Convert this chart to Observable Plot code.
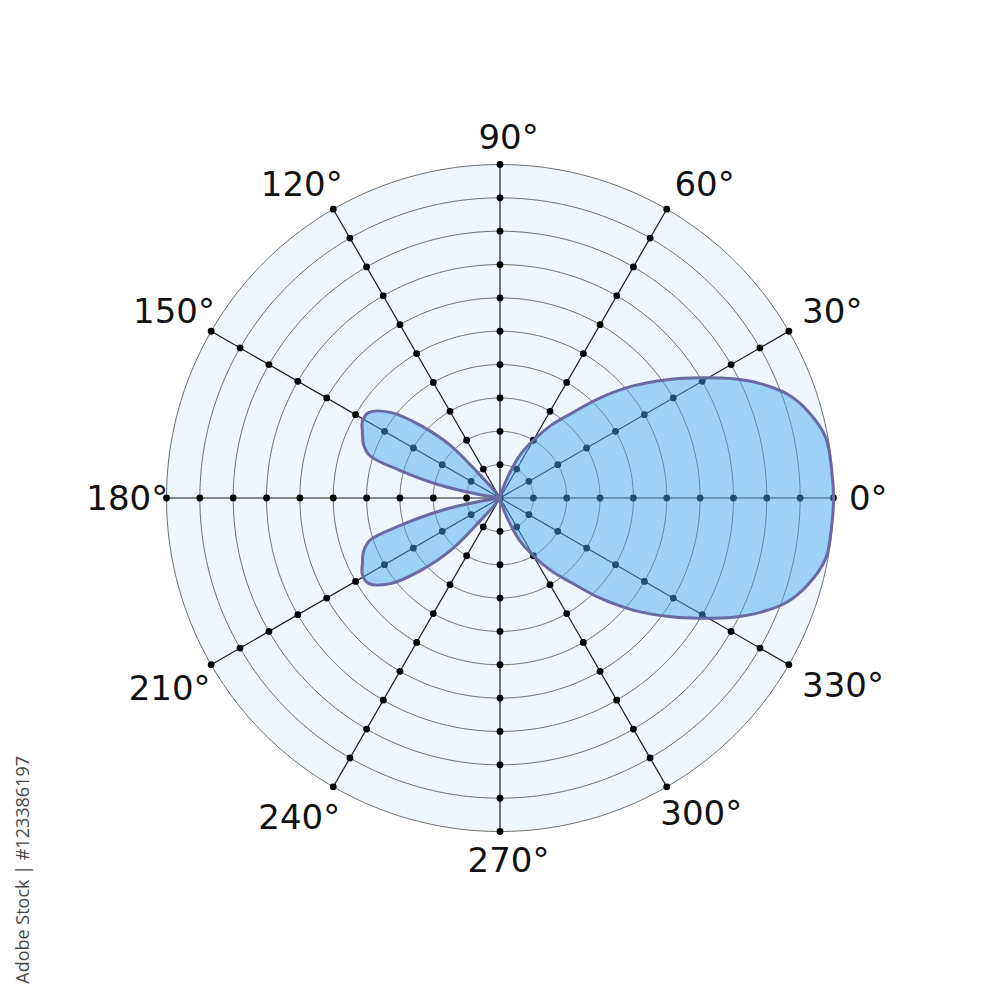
<!DOCTYPE html>
<html>
<head>
<meta charset="utf-8">
<script src="https://cdn.jsdelivr.net/npm/d3@7"></script>
<script src="https://cdn.jsdelivr.net/npm/@observablehq/plot@0.6"></script>
<style>
html, body { margin: 0; padding: 0; background: #fff; }
#chart { position: relative; width: 1000px; height: 1000px; overflow: hidden; }
#credit {
  position: absolute; left: 13px; top: 756px;
  writing-mode: vertical-rl; transform: rotate(180deg);
  font-family: "Open Sans", sans-serif; font-size: 18px; line-height: 19px; color: #474747;
  white-space: nowrap;
}
</style>
</head>
<body>
<div id="chart"></div>
<script>
// ---- data ----
const ringValues = [0.1, 0.2, 0.3, 0.4, 0.5, 0.6, 0.7, 0.8, 0.9, 1.0];
const spokeAngles = [0, 30, 60, 90, 120, 150, 180, 210, 240, 270, 300, 330];
const angleLabels = ["0°", "30°", "60°", "90°", "120°", "150°", "180°", "210°", "240°", "270°", "300°", "330°"];

// main lobe (symmetric about 0°): angle in degrees, normalised radius
const mainLobeAngles = [0, 5, 10.6, 15.9, 19.9, 23.7, 27, 31, 35, 40, 45, 50, 55, 60, 65, 68, 72];
const mainLobeRadii  = [1.0, 0.998, 0.993, 0.958, 0.916, 0.853, 0.787, 0.70, 0.62, 0.524, 0.425, 0.33, 0.265, 0.2, 0.143, 0.094, 0.04];

// upper back lobe outline (lower one mirrored about 180°)
const backLobeAngles = [128, 131, 133.3, 137.6, 142, 147, 151, 154.5, 158.5, 162, 164.6, 168, 170.5];
const backLobeRadii  = [0.03, 0.09, 0.216, 0.323, 0.417, 0.47, 0.472, 0.457, 0.44, 0.41, 0.31, 0.18, 0.06];

const creditText = "Adobe Stock | #123386197";

// ---- layout ----
const W = 1000, H = 1000, cx = 499.5, cy = 497.5, R = 333.5;
const rad = d => d * Math.PI / 180;
const pol = (deg, r) => ({x: r * Math.cos(rad(deg)), y: r * Math.sin(rad(deg))});
const O = {x: 0, y: 0};

const circlePts = ringValues.flatMap(r => d3.range(0, 361, 1).map(a => ({ring: r, ...pol(a, r)})));
const outerPts = circlePts.filter(d => d.ring === 1.0);

const dotPts = [O, ...spokeAngles.flatMap(a => ringValues.map(r => pol(a, r)))];

const mainPos = mainLobeAngles.map((a, i) => pol(a, mainLobeRadii[i]));
const mainNeg = mainLobeAngles.map((a, i) => pol(-a, mainLobeRadii[i]));
const lobePts = [
  ...[O, ...mainPos.slice().reverse(), ...mainNeg.slice(1), O].map(p => ({lobe: "main", ...p})),
  ...[O, ...backLobeAngles.map((a, i) => pol(a, backLobeRadii[i])), O].map(p => ({lobe: "upper", ...p})),
  ...[O, ...backLobeAngles.map((a, i) => pol(360 - a, backLobeRadii[i])), O].map(p => ({lobe: "lower", ...p}))
];

// label: corner of the digit box nearest the centre sits just outside the outer ring
const labelData = spokeAngles.map((a, i) => {
  const label = angleLabels[i];
  const w = 21.5 * (label.length - 1);
  const c = Math.cos(rad(a)), s = Math.sin(rad(a));
  const sx = Math.abs(c) < 0.01 ? 0 : Math.sign(c);
  const sy = Math.abs(s) < 0.01 ? 0 : Math.sign(s);
  const gap = 349 + (s < -0.01 && c < -0.01 ? 5 : 0);
  const px = gap * c + sx * w / 2 - (s < -0.01 && c > 0.01 && c < 0.6 ? 14 : 0);
  const py = gap * s + sy * 12.5;
  return {label, x: px / R, y: py / R};
});

const chart = Plot.plot({
  width: W, height: H, margin: 0,
  x: {domain: [-cx / R, (W - cx) / R], range: [0, W], axis: null},
  y: {domain: [-(H - cy) / R, cy / R], range: [H, 0], axis: null},
  style: {background: "white"},
  marks: [
    Plot.line(outerPts, {x: "x", y: "y", fill: "#eff6fd", stroke: "none"}),
    Plot.line(circlePts, {x: "x", y: "y", z: "ring", stroke: "#6e6e6e", strokeWidth: 1}),
    Plot.link(spokeAngles, {x1: () => 0, y1: () => 0, x2: a => Math.cos(rad(a)), y2: a => Math.sin(rad(a)), stroke: "#1a1a1a", strokeWidth: 1.2}),
    Plot.dot(dotPts, {x: "x", y: "y", r: 3.4, fill: "#000", stroke: "none"}),
    Plot.line(lobePts, {x: "x", y: "y", z: "lobe", curve: "catmull-rom", fill: "#42a8f5", fillOpacity: 0.47, stroke: "#6b69a3", strokeWidth: 3, strokeLinejoin: "round"}),
    Plot.text(labelData, {x: "x", y: "y", text: "label", textAnchor: "middle", lineAnchor: "middle", dx: 8.5, dy: 1.5, fontSize: 34, fontFamily: "DejaVu Sans", fill: "#111"})
  ]
});
const host = document.getElementById("chart");
host.appendChild(chart);
const credit = document.createElement("div");
credit.id = "credit";
credit.textContent = creditText;
host.appendChild(credit);
</script>
</body>
</html>
